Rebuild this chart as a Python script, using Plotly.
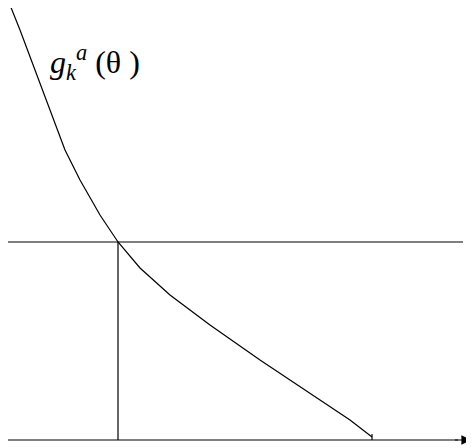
import plotly.graph_objects as go

curve_x = [8, 20, 35, 50, 65, 80, 100, 118, 140, 170, 210, 260, 310, 350, 372]
curve_y = [0, 30, 70, 110, 150, 180, 215, 242, 268, 295, 325, 360, 393, 420, 437]
hline_x = [0, 463]
hline_y = [242, 242]
vline_x = [118, 118]
vline_y = [242, 440]
axis_x = [0, 458]
axis_y = [440, 440]
tick_x = [372, 372]
tick_y = [434, 440]

ln = dict(color="black", width=1.2)
fig = go.Figure()
for xs, ys in [(curve_x, curve_y), (hline_x, hline_y), (vline_x, vline_y), (axis_x, axis_y), (tick_x, tick_y)]:
    fig.add_trace(go.Scatter(x=xs, y=ys, mode="lines", line=ln, hoverinfo="skip"))

fig.add_annotation(x=471, y=440, ax=452, ay=440, xref="x", yref="y", axref="x", ayref="y",
                   showarrow=True, arrowhead=2, arrowsize=1.6, arrowwidth=1.2, arrowcolor="black", text=" ")
fig.add_annotation(x=48, y=62, xref="x", yref="y", xanchor="left", yanchor="middle", showarrow=False,
                   text="<i>g</i><sub><i>k</i></sub><sup><i>a</i></sup> (θ )",
                   font=dict(family="Liberation Serif", size=32, color="black"))

fig.update_layout(width=474, height=448, margin=dict(l=0, r=0, t=0, b=0),
                  plot_bgcolor="white", paper_bgcolor="white", showlegend=False,
                  xaxis=dict(range=[8, 482], visible=False),
                  yaxis=dict(range=[456, 8], visible=False))
fig.write_html("out.html")
